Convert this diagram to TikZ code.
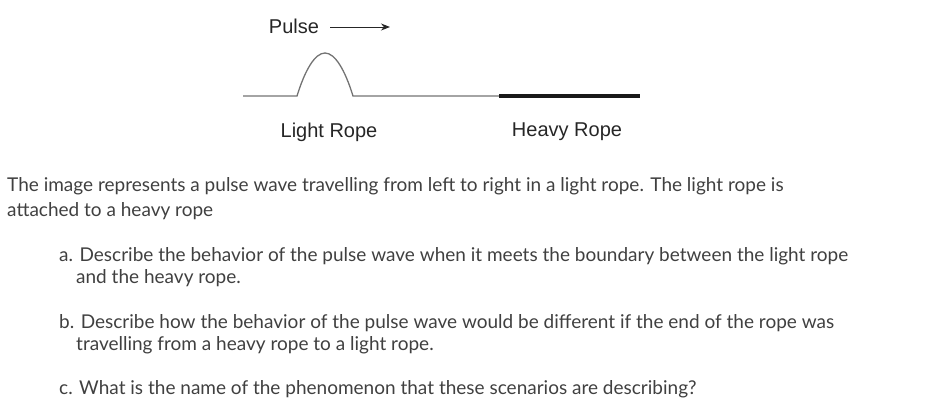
\documentclass[tikz,border=0pt]{standalone}
\usepackage{fontspec}
\usetikzlibrary{arrows.meta}
\setmainfont{Lato}
\newfontfamily\ropefont{Liberation Sans}
\begin{document}
\begin{tikzpicture}[x=1pt,y=-1pt,
  lbl/.style={font=\ropefont\fontsize{20}{22}\selectfont,text=black!85},
  para/.style={anchor=west,font=\fontsize{19}{22}\selectfont,text=black!75,inner sep=0},
  rope/.style={draw=black!55,line width=1.3pt}]
\useasboundingbox (0,0) rectangle (945,410);
\node[lbl] (pulse) at (294,26) {Pulse};
\coordinate (a1) at (330,27);
\coordinate (a2) at (390,27);
\draw[black!85,line width=1pt,-{Stealth[length=9pt,width=7pt]}] (a1) -- (a2);
\coordinate (r0) at (243,96);
\coordinate (p0) at (297,96);
\coordinate (p1) at (353,96);
\coordinate (j) at (499,96);
\coordinate (e) at (640,96);
\draw[rope] (r0) -- (p0) .. controls (305,70) and (315,53) .. (325,53) .. controls (335,53) and (345,70) .. (p1) -- (j);
\draw[black!90,line width=3.5pt] (j) -- (e);
\node[lbl] (light) at (329,132) {Light Rope};
\node[lbl] (heavy) at (567,132) {Heavy Rope};
\node[para] (t1) at (7,186) {The image represents a pulse wave travelling from left to right in a light rope. The light rope is};
\node[para] (t2) at (7,211) {attached to a heavy rope};
\node[para] (a) at (59,256) {a. Describe the behavior of the pulse wave when it meets the boundary between the light rope};
\node[para] (a2l) at (76,278) {and the heavy rope.};
\node[para] (b) at (59,323) {b. Describe how the behavior of the pulse wave would be different if the end of the rope was};
\node[para] (b2l) at (76,345) {travelling from a heavy rope to a light rope.};
\node[para] (c) at (59,389) {c. What is the name of the phenomenon that these scenarios are describing?};
\end{tikzpicture}
\end{document}
